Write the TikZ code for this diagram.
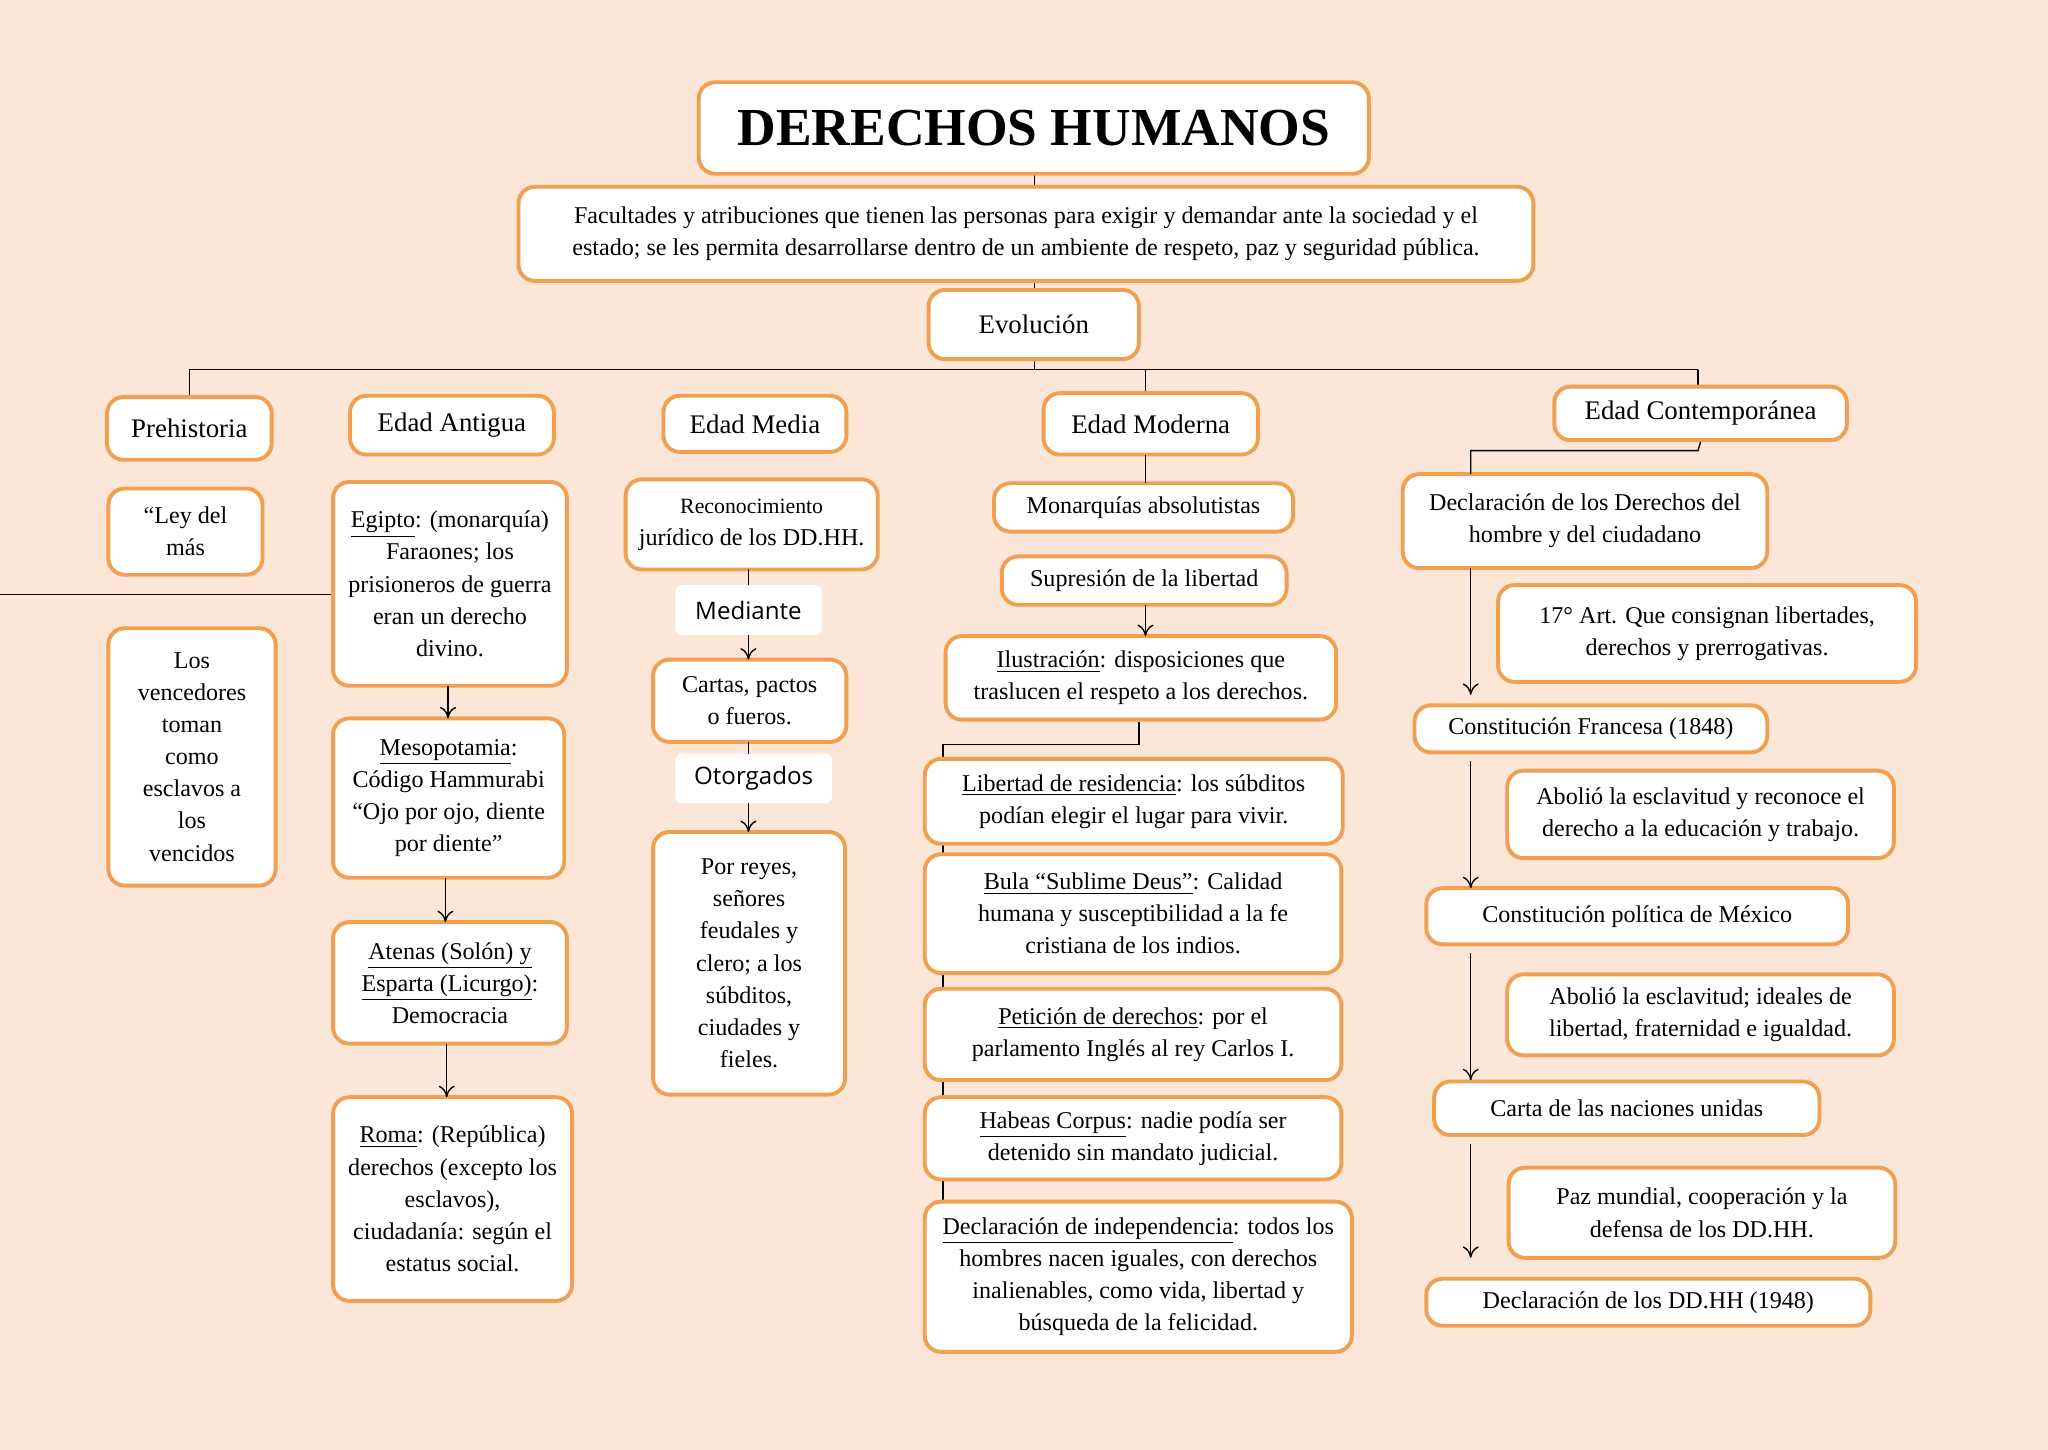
\documentclass[tikz,border=0pt]{standalone}
\usepackage{fontspec}
\setmainfont{Liberation Serif}
\newfontfamily\sansf{Open Sans}
\usetikzlibrary{arrows.meta}
\definecolor{bg}{HTML}{FCE6D8}
\definecolor{org}{HTML}{F0A050}
\newcommand\B[6]{%
 \pgfmathsetmacro\bw{(#3-#2)*0.02}\pgfmathsetmacro\bh{(#5-#4)*0.02}%
 \node[bx,minimum width=\bw cm,minimum height=\bh cm] (#1) at ({(#2+#3)/2},{(#4+#5)/2}) {#6};}
\newcommand\W[6]{%
 \pgfmathsetmacro\bw{(#3-#2)*0.02}\pgfmathsetmacro\bh{(#5-#4)*0.02}%
 \node[wb,minimum width=\bw cm,minimum height=\bh cm] (#1) at ({(#2+#3)/2},{(#4+#5)/2}) {#6};}
\begin{document}
\begin{tikzpicture}[x=0.02cm,y=-0.02cm,
 bx/.style={draw=org,line width=1.7pt,rounded corners=0.25cm,fill=white,inner sep=0pt,align=center,font=\fontsize{10.5}{14}\selectfont},
 wb/.style={fill=white,rounded corners=0.1cm,inner sep=0pt,font=\sansf\fontsize{10.5}{14}\selectfont},
 ln/.style={line width=0.6pt,black},
 ar/.style={ln,-{To[length=5pt,width=7pt]}}]
\fill[bg] (0,0) rectangle (1568,1110);
\useasboundingbox (0,0) rectangle (1568,1110);
% lines behind
\draw[ln] (792,133) -- (792,283);
\draw[ln] (145,283) -- (1300,283);
\draw[ln] (145,283) -- (145,304);
\draw[ln] (877,283) -- (877,301);
\draw[ln] (1300,283) -- (1300,296);
\B{title}{535}{1048}{63}{133}{\bfseries\fontsize{23.3}{27}\selectfont DERECHOS HUMANOS}
\B{def}{397}{1174}{143}{215}{Facultades y atribuciones que tienen las personas para exigir y demandar ante la sociedad y el\\estado; se les permita desarrollarse dentro de un ambiente de respeto, paz y seguridad pública.}
\B{evo}{711}{872}{222}{275}{\fontsize{11.7}{14}\selectfont Evolución}
\B{pre}{82}{208}{304}{352}{\fontsize{11.7}{14}\selectfont Prehistoria}
\B{ant}{268}{424}{303}{348}{\fontsize{11.7}{14}\selectfont Edad Antigua}
\B{med}{508}{648}{303}{346}{\fontsize{11.7}{14}\selectfont Edad Media}
\B{mod}{799}{963}{301}{348}{\fontsize{11.7}{14}\selectfont Edad Moderna}
\B{con}{1190}{1414}{296}{337}{\fontsize{11.7}{14}\selectfont Edad Contemporánea}
% Prehistoria
\B{ley}{83}{201}{374}{440}{“Ley del\\más}
\B{ven}{83}{211}{481}{678}{Los\\vencedores\\toman\\como\\esclavos a\\los\\vencidos}
% Antigua
\coordinate (lft) at (0,455);
\B{egi}{255}{434}{369}{525}{\underline{Egipto}: (monarquía)\\Faraones; los\\prisioneros de guerra\\eran un derecho\\divino.}
\draw[ln] (lft) -- (egi.west|-lft);
\B{mes}{255}{432}{550}{672}{\underline{Mesopotamia}:\\Código Hammurabi\\“Ojo por ojo, diente\\por diente”}
\B{ate}{255}{434}{706}{799}{\underline{Atenas (Solón) y}\\\underline{Esparta (Licurgo)}:\\Democracia}
\B{rom}{255}{438}{840}{996}{\underline{Roma}: (República)\\derechos (excepto los\\esclavos),\\ciudadanía: según el\\estatus social.}
\draw[ar] (343,525) -- (343,550);
\draw[ar] (341,672) -- (341,706);
\draw[ar] (342,799) -- (342,840);
% Media
\B{rec}{479}{672}{367}{436}{\fontsize{9.5}{13}\selectfont Reconocimiento\\jurídico de los DD.HH.}
\W{mdt}{517}{629}{448}{486}{Mediante}
\B{car}{500}{648}{505}{568}{Cartas, pactos\\o fueros.}
\W{oto}{517}{637}{577}{615}{Otorgados}
\B{rey}{500}{647}{637}{838}{Por reyes,\\señores\\feudales y\\clero; a los\\súbditos,\\ciudades y\\fieles.}
\draw[ln] (573,436) -- (573,448);
\draw[ar] (573,486) -- (573,505);
\draw[ln] (573,568) -- (573,577);
\draw[ar] (573,615) -- (573,637);
% Moderna
\B{mon}{761}{990}{370}{407}{Monarquías absolutistas}
\B{sup}{767}{985}{426}{463}{Supresión de la libertad}
\B{ilu}{724}{1023}{487}{551}{\underline{Ilustración}: disposiciones que\\traslucen el respeto a los derechos.}
\draw[ln] (877,348) -- (877,370);
\draw[ar] (877,463) -- (877,487);
\coordinate (c1) at (872,570);
\coordinate (c2) at (722,570);
\coordinate (c3) at (722,1025);
\draw[ln] (ilu.south-|c1) -- (c1) -- (c2) -- (c3);
\B{lib}{708}{1028}{581}{646}{\underline{Libertad de residencia}: los súbditos\\podían elegir el lugar para vivir.}
\B{bul}{708}{1027}{654}{745}{\underline{Bula “Sublime Deus”}: Calidad\\humana y susceptibilidad a la fe\\cristiana de los indios.}
\B{pet}{708}{1027}{757}{827}{\underline{Petición de derechos}: por el\\parlamento Inglés al rey Carlos I.}
\B{hab}{708}{1027}{840}{903}{\underline{Habeas Corpus}: nadie podía ser\\detenido sin mandato judicial.}
\B{dec}{708}{1035}{920}{1035}{\underline{Declaración de independencia}: todos los\\hombres nacen iguales, con derechos\\inalienables, como vida, libertad y\\búsqueda de la felicidad.}
% Contemporanea
\B{ddh}{1074}{1353}{363}{435}{Declaración de los Derechos del\\hombre y del ciudadano}
\draw[ln] (con.south) -- (1300,345) -- (1126,345) -- (1126,363);
\B{art}{1147}{1467}{448}{522}{17° Art. Que consignan libertades,\\derechos y prerrogativas.}
\B{cfr}{1083}{1353}{540}{576}{Constitución Francesa (1848)}
\B{abo}{1154}{1450}{590}{657}{Abolió la esclavitud y reconoce el\\derecho a la educación y trabajo.}
\B{cmx}{1092}{1415}{680}{723}{Constitución política de México}
\B{ab2}{1154}{1450}{746}{808}{Abolió la esclavitud; ideales de\\libertad, fraternidad e igualdad.}
\B{cnu}{1098}{1393}{828}{869}{Carta de las naciones unidas}
\B{paz}{1155}{1451}{894}{963}{Paz mundial, cooperación y la\\defensa de los DD.HH.}
\B{d48}{1092}{1432}{979}{1015}{Declaración de los DD.HH (1948)}
\draw[ar] (1126,435) -- (1126,532);
\draw[ar] (1126,583) -- (1126,680);
\draw[ar] (1126,730) -- (1126,827);
\draw[ar] (1126,876) -- (1126,963);
\end{tikzpicture}
\end{document}
